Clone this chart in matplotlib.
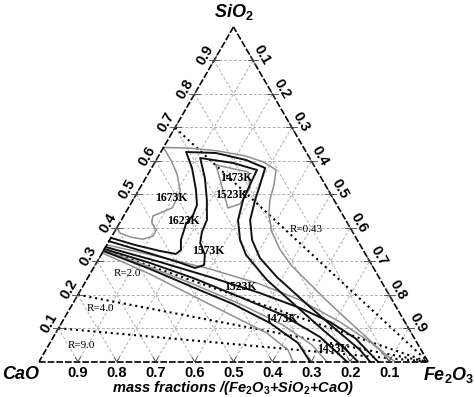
import numpy as np
import matplotlib
matplotlib.use("Agg")
import matplotlib.pyplot as plt

# ---------------- data (compositions as (SiO2, Fe2O3) mass fractions) ----------------
tick_values = [0.1, 0.2, 0.3, 0.4, 0.5, 0.6, 0.7, 0.8, 0.9]
basicity_R = [0.43, 2.0, 4.0, 9.0]
basicity_labels = ["R=0.43", "R=2.0", "R=4.0", "R=9.0"]
basicity_label_pos = [(0.395, 0.489), (0.264, 0.094), (0.160, 0.079), (0.048, 0.084)]

gray_1673_left = [(0.64, 0.0), (0.60, 0.04), (0.56, 0.075), (0.51, 0.108), (0.46, 0.113),
                  (0.447, 0.093), (0.435, 0.075), (0.414, 0.083), (0.393, 0.105), (0.375, 0.105),
                  (0.366, 0.085), (0.372, 0.05), (0.385, 0.015), (0.40, 0.0)]
gray_outer = [(0.64, 0.0), (0.638, 0.069), (0.630, 0.143), (0.615, 0.222), (0.597, 0.278),
              (0.573, 0.323), (0.528, 0.340), (0.483, 0.352), (0.438, 0.372), (0.3875, 0.405),
              (0.334, 0.453), (0.286, 0.507), (0.232, 0.581), (0.184, 0.646), (0.1306, 0.722),
              (0.0857, 0.787), (0.041, 0.851), (0.0, 0.902)]
black_1623 = [(0.37, 0.0), (0.3487, 0.0725), (0.3307, 0.146), (0.3218, 0.191), (0.3337, 0.198),
              (0.3636, 0.183), (0.4114, 0.172), (0.4383, 0.177), (0.4682, 0.172), (0.513, 0.147),
              (0.5787, 0.104), (0.6265, 0.065), (0.6235, 0.143), (0.6026, 0.231), (0.5787, 0.292),
              (0.528, 0.304), (0.483, 0.314), (0.4234, 0.331), (0.3636, 0.366), (0.3098, 0.413),
              (0.253, 0.485), (0.1634, 0.615), (0.0857, 0.731), (0.035, 0.808), (0.0, 0.851)]
black_1573 = [(0.36, 0.0), (0.3278, 0.109), (0.2979, 0.208), (0.28, 0.261), (0.2889, 0.280),
              (0.3188, 0.267), (0.3546, 0.237), (0.3875, 0.225), (0.4234, 0.220), (0.483, 0.190),
              (0.5489, 0.152), (0.6086, 0.110), (0.5937, 0.202), (0.5727, 0.274), (0.528, 0.278),
              (0.483, 0.283), (0.4234, 0.300), (0.3636, 0.335), (0.3188, 0.373), (0.2441, 0.464),
              (0.1634, 0.582), (0.0947, 0.683), (0.0439, 0.760), (0.0, 0.820)]
gray_inner_poly = [(0.5877, 0.161), (0.4592, 0.256), (0.4712, 0.281), (0.519, 0.283),
                   (0.5668, 0.254), (0.5877, 0.161)]
gray_1523_low = [(0.349, 0.0), (0.3128, 0.155), (0.277, 0.301), (0.2321, 0.452), (0.1843, 0.579),
                 (0.1186, 0.7145), (0.0589, 0.8215), (0.0, 0.915)]
black_1473_low = [(0.3427, 0.0), (0.2979, 0.162), (0.2531, 0.313), (0.2053, 0.465),
                  (0.1604, 0.591), (0.1186, 0.689), (0.0708, 0.777), (0.0, 0.8715)]
black_low_a = [(0.3367, 0.0), (0.2949, 0.138), (0.2501, 0.271), (0.1933, 0.420), (0.1395, 0.557),
               (0.0738, 0.6855), (0.0, 0.7918)]
gray_low_a = [(0.3337, 0.0), (0.2829, 0.144), (0.2321, 0.280), (0.1724, 0.4305), (0.1097, 0.572),
              (0.0499, 0.677), (0.0, 0.740)]
black_low_b = [(0.3307, 0.0), (0.277, 0.147), (0.2262, 0.275), (0.1724, 0.4125), (0.1156, 0.536),
               (0.0559, 0.638), (0.0, 0.6967)]
gray_low_b = [(0.3248, 0.0), (0.262, 0.154), (0.2053, 0.278), (0.1455, 0.4105), (0.0857, 0.543),
              (0.035, 0.6226), (0.0, 0.653)]

black_curves = [black_1623, black_1573, black_1473_low, black_low_a, black_low_b]
gray_curves = [gray_1673_left, gray_outer, gray_inner_poly, gray_1523_low, gray_low_a, gray_low_b]

temp_labels = ["1673K", "1623K", "1573K", "1473K", "1523K", "1523K", "1473K", "1433K"]
temp_label_pos = [(0.4876, 0.0955), (0.4189, 0.161), (0.3293, 0.270), (0.5474, 0.233),
                  (0.498, 0.245), (0.2232, 0.405), (0.129, 0.558), (0.038, 0.737)]

# ---------------- helpers ----------------
H = np.sqrt(3) / 2
plt.rcParams["mathtext.fontset"] = "custom"
plt.rcParams["mathtext.rm"] = "Liberation Sans:bold"
plt.rcParams["mathtext.it"] = "Liberation Sans:bold:italic"
plt.rcParams["mathtext.bf"] = "Liberation Sans:bold"


def tern(s, f):
    s = np.asarray(s, float)
    f = np.asarray(f, float)
    return f + s / 2, s * H


def draw(ax, pts, **kw):
    s, f = zip(*pts)
    x, y = tern(s, f)
    ax.plot(x, y, **kw)


fig = plt.figure(figsize=(4.74, 3.97), dpi=100)
ax = fig.add_axes([0, 0, 1, 1])
ax.set_xlim(-0.1003, 1.1183)
ax.set_ylim(-0.0913, 0.9358)
ax.axis("off")

# grid
grid_kw = dict(color="#b0b0b0", lw=0.7, ls=(0, (3, 2)), zorder=1)
for v in tick_values:
    draw(ax, [(v, 0), (v, 1 - v)], **grid_kw)        # const SiO2
    draw(ax, [(0, v), (1 - v, v)], **grid_kw)        # const Fe2O3
    draw(ax, [(1 - v, 0), (0, 1 - v)], **grid_kw)    # const CaO

# triangle edges
edge_kw = dict(color="black", lw=1.2, ls=(0, (4, 1.2)), zorder=5)
draw(ax, [(0, 0), (0, 1)], **edge_kw)
draw(ax, [(0, 1), (1, 0)], **edge_kw)
draw(ax, [(1, 0), (0, 0)], **edge_kw)

# ticks (small marks along the grid directions)
tl = 0.014
for v in tick_values:
    x0, y0 = tern(0, 1 - v)
    ax.plot([x0 - tl * 0.5, x0, x0 + tl * 0.5], [y0 + tl * H, y0, y0 + tl * H], color="#444", lw=0.6, zorder=5)
    x0, y0 = tern(v, 0)
    ax.plot([x0 - tl, x0 + tl], [y0, y0], color="#444", lw=0.6, zorder=5)
    ax.plot([x0 - tl * 0.5, x0 + tl * 0.5], [y0 - tl * H, y0 + tl * H], color="#444", lw=0.6, zorder=5)
    x0, y0 = tern(1 - v, v)
    ax.plot([x0 - tl, x0 + tl], [y0, y0], color="#444", lw=0.6, zorder=5)
    ax.plot([x0 - tl * 0.5, x0 + tl * 0.5], [y0 + tl * H, y0 - tl * H], color="#444", lw=0.6, zorder=5)

# basicity lines
for R in basicity_R:
    s_left = 1 / (1 + R)
    draw(ax, [(s_left, 0), (0, 1)], color="black", lw=1.5, ls=(0, (1, 1.8)), zorder=3)

# contours
for c in gray_curves:
    draw(ax, c, color="#8f8f8f", lw=1.1, zorder=4)
for c in black_curves:
    draw(ax, c, color="#111111", lw=1.4, zorder=4)

# labels
serif = ["Liberation Serif", "DejaVu Serif"]
for t, (s, f) in zip(temp_labels, temp_label_pos):
    x, y = tern(s, f)
    ax.text(x, y, t, family=serif, fontsize=8.5, fontweight="bold", ha="center", va="center", zorder=6)
for t, (s, f) in zip(basicity_labels, basicity_label_pos):
    x, y = tern(s, f)
    ax.text(x, y, t, family=serif, fontsize=8, ha="center", va="center", zorder=6)

sans = ["Liberation Sans", "DejaVu Sans"]
d = 0.027
for v in tick_values:
    lab = f"{v:.1f}"
    x, y = tern(0, 1 - v)
    ax.text(x, y - 0.03, lab, family=sans, fontsize=10.5, fontweight="bold", ha="center", va="center")
    x, y = tern(v, 0)
    ax.text(x - d * H, y + d * 0.5, lab, family=sans, fontsize=10.5, fontweight="bold",
            rotation=60, ha="center", va="center")
    x, y = tern(1 - v, v)
    ax.text(x + d * H, y + d * 0.5, lab, family=sans, fontsize=10.5, fontweight="bold",
            rotation=-60, ha="center", va="center")

ax.text(0.5, 0.905, "SiO$_\\mathit{2}$", family=sans, fontsize=13, fontweight="bold", style="italic",
        ha="center", va="center")
ax.text(-0.046, -0.032, "CaO", family=sans, fontsize=13, fontweight="bold", style="italic",
        ha="center", va="center")
ax.text(1.054, -0.035, "Fe$_\\mathit{2}$O$_\\mathit{3}$", family=sans, fontsize=13, fontweight="bold",
        style="italic", ha="center", va="center")
ax.text(0.4987, -0.068, "mass fractions /(Fe$_\\mathit{2}$O$_\\mathit{3}$+SiO$_\\mathit{2}$+CaO)",
        family=sans, fontsize=10.5, fontweight="bold", style="italic", ha="center", va="center")

fig.savefig("out.png", dpi=100)
